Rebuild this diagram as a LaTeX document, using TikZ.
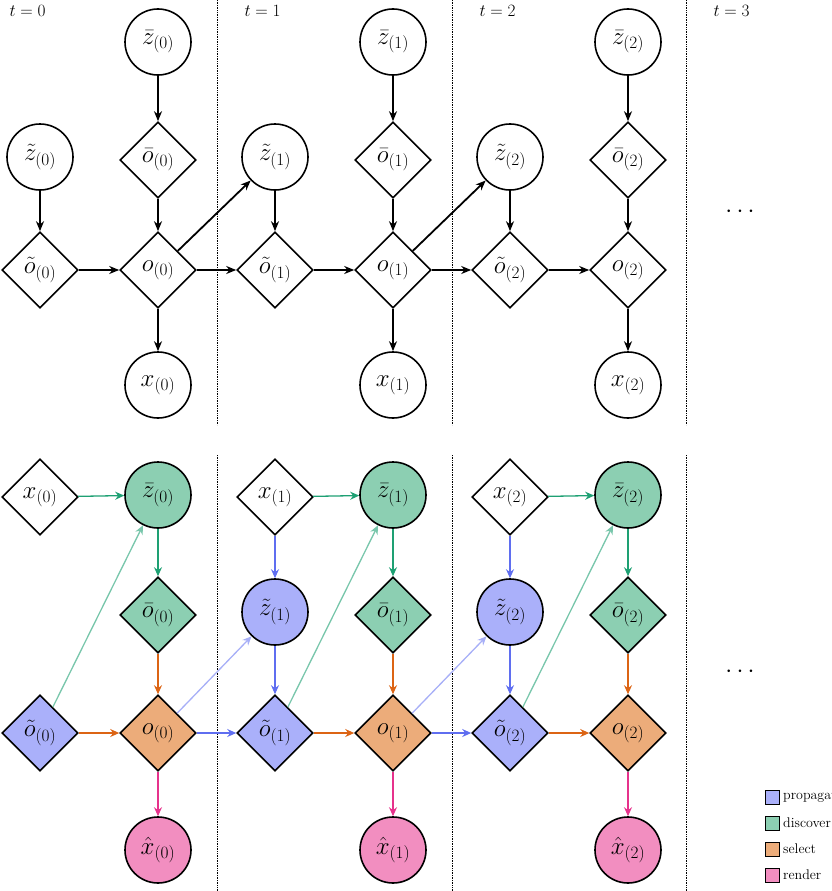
\documentclass[tikz,border=0pt]{standalone}
\usetikzlibrary{shapes.geometric,arrows.meta}
\definecolor{pf}{RGB}{170,176,250}\definecolor{pa}{RGB}{95,110,240}
\definecolor{df}{RGB}{140,207,178}\definecolor{da}{RGB}{30,160,115}
\definecolor{sf}{RGB}{236,172,122}\definecolor{sa}{RGB}{220,100,20}
\definecolor{rf}{RGB}{242,142,192}\definecolor{ra}{RGB}{230,50,140}
\begin{document}
\begin{tikzpicture}[x=1pt,y=-1pt,
 lab/.style={font=\fontsize{24}{28}\selectfont},
 c/.style={circle,draw,line width=1.6pt,minimum size=66pt,inner sep=0pt,lab},
 d/.style={diamond,draw,line width=1.6pt,minimum size=76pt,inner sep=0pt,lab},
 a/.style={-{Stealth[length=10pt,width=8pt]},line width=1.8pt},
 b/.style={-{Stealth[length=9pt,width=8pt]},line width=1.3pt},
 dot/.style={densely dotted,line width=0.7pt}]
\useasboundingbox (0,0) rectangle (832,891);
\foreach \x in {217,452,686}{\draw[dot] (\x,0)--(\x,425); \draw[dot] (\x,455)--(\x,891);}
\foreach \x/\t in {6/0,241/1,476/2,710/3}\node[anchor=north west,font=\fontsize{19}{22}\selectfont] at (\x,2) {$t=\t$};
% top
\foreach \i/\X in {0/40,1/275,2/510}{
 \pgfmathsetmacro{\Y}{\X+118}
 \node[d] (to\i) at (\X,270) {$\tilde o_{(\i)}$};
 \node[d] (o\i) at (\Y,270) {$o_{(\i)}$};
 \node[c] (zb\i) at (\Y,42) {$\bar z_{(\i)}$};
 \node[d] (ob\i) at (\Y,160) {$\bar o_{(\i)}$};
 \node[c] (x\i) at (\Y,385) {$x_{(\i)}$};
 \node[c] (zt\i) at (\X,157) {$\tilde z_{(\i)}$};
 \draw[a] (zb\i)--(ob\i); \draw[a] (ob\i)--(o\i); \draw[a] (o\i)--(x\i);
 \draw[a] (zt\i)--(to\i); \draw[a] (to\i)--(o\i);
}
\foreach \i/\j in {0/1,1/2}{\draw[a] (o\i)--(to\j); \draw[a] (o\i)--(zt\j);}
\node[lab] (dt1) at (740,212) {$\cdots$};
% bottom
\foreach \i/\X in {0/40,1/275,2/510}{
 \pgfmathsetmacro{\Y}{\X+118}
 \node[d] (Bx\i) at (\X,497) {$x_{(\i)}$};
 \node[d,fill=pf] (Bto\i) at (\X,733) {$\tilde o_{(\i)}$};
 \node[d,fill=sf] (Bo\i) at (\Y,733) {$o_{(\i)}$};
 \node[c,fill=df] (Bzb\i) at (\Y,495) {$\bar z_{(\i)}$};
 \node[d,fill=df] (Bob\i) at (\Y,615) {$\bar o_{(\i)}$};
 \node[c,fill=rf] (Bxh\i) at (\Y,850) {$\hat x_{(\i)}$};
 \draw[b,da] (Bx\i)--(Bzb\i); \draw[b,da] (Bzb\i)--(Bob\i);
 \draw[b,sa] (Bob\i)--(Bo\i); \draw[b,sa] (Bto\i)--(Bo\i);
 \draw[b,ra] (Bo\i)--(Bxh\i);
 \draw[b,da!60] (Bto\i)--(Bzb\i);
}
\foreach \i/\X in {1/275,2/510}{
 \node[c,fill=pf] (Bzt\i) at (\X,612) {$\tilde z_{(\i)}$};
 \draw[b,pa] (Bx\i)--(Bzt\i); \draw[b,pa] (Bzt\i)--(Bto\i);
}
\foreach \i/\j in {0/1,1/2}{\draw[b,pa] (Bo\i)--(Bto\j); \draw[b,pa!55] (Bo\i)--(Bzt\j);}
\node[lab] (dt2) at (740,672) {$\cdots$};
% legend
\foreach \y/\f/\t in {797/pf/propagate,823/df/discover,849/sf/select,875/rf/render}{
 \node[draw,line width=0.8pt,fill=\f,minimum size=14pt,inner sep=0pt] (L\t) at (772,\y) {};
 \node[anchor=west,font=\fontsize{14}{16}\selectfont,inner sep=0pt] at (783,\y) {\t};
}
\end{tikzpicture}
\end{document}
